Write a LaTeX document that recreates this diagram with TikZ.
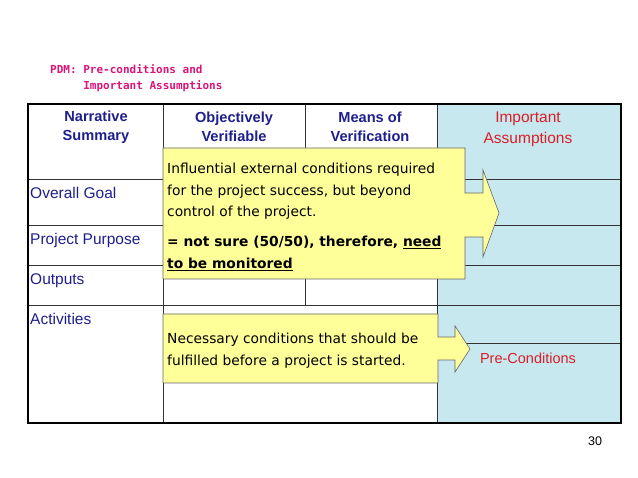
\documentclass[tikz,border=0pt]{standalone}
\usepackage{fontspec}
\setmainfont{Liberation Sans}
\newfontfamily\callfont{DejaVu Sans}
\newfontfamily\titlefont{DejaVu Sans Mono}
\definecolor{navy}{RGB}{30,30,140}
\definecolor{cyanbg}{RGB}{198,232,238}
\definecolor{callyel}{RGB}{255,255,153}
\definecolor{magent}{RGB}{220,20,120}
\definecolor{redtx}{RGB}{220,30,40}
\begin{document}
\begin{tikzpicture}[x=1pt,y=-1pt,
  hdr/.style={font=\bfseries\fontsize{14.6}{19}\selectfont, text=navy, align=center},
  rowlab/.style={font=\fontsize{15.5}{18}\selectfont, text=navy, anchor=west, inner sep=0pt},
  call/.style={draw=black!60, fill=callyel, line width=0.6pt},
  calltxt/.style={font=\callfont\fontsize{13.8}{21.5}\selectfont, align=left, anchor=north west, inner sep=0pt}]
\useasboundingbox (0,0) rectangle (638,478);
\fill[cyanbg] (437,104) rectangle (621,423);
\draw[black!80, line width=0.7pt]
  (28,179) -- (621,179) (28,225) -- (621,225) (28,265) -- (621,265) (28,305) -- (621,305)
  (437,343) -- (621,343)
  (163,104) -- (163,423) (305,104) -- (305,305) (437,104) -- (437,423);
\draw[black, line width=1.4pt] (28,104) rectangle (621,423);
\node[font=\titlefont\bfseries\fontsize{11}{16}\selectfont, text=magent, align=left, anchor=north west, inner sep=0pt] (title) at (50,64) {PDM: Pre-conditions and\\\phantom{PDM: }Important Assumptions};
\node[hdr] (h1) at (96,127) {Narrative\\Summary};
\node[hdr] (h2) at (234,127) {Objectively\\Verifiable};
\node[hdr] (h3) at (370,127) {Means of\\Verification};
\node[font=\fontsize{15.5}{21}\selectfont, text=redtx, align=center] (h4) at (528,129) {Important\\Assumptions};
\node[rowlab] (r1) at (30,193) {Overall Goal};
\node[rowlab] (r2) at (30,240) {Project Purpose};
\node[rowlab] (r3) at (30,281) {Outputs};
\node[rowlab] (r4) at (30,319) {Activities};
\draw[call] (163,148) -- (465,148) -- (465,193) -- (483,193) -- (483,170) -- (499,213) -- (483,257) -- (483,237) -- (465,237) -- (465,279) -- (163,279) -- cycle;
\node[calltxt] (c1) at (167,163) {Influential external conditions required\\for the project success, but beyond\\control of the project.\\[8.5pt]\textbf{= not sure (50/50), therefore, \underline{need}}\\\textbf{\underline{to be monitored}}};
\draw[call] (163,314) -- (438,314) -- (438,337) -- (455,337) -- (455,326) -- (470,349) -- (455,372) -- (455,360) -- (438,360) -- (438,383) -- (163,383) -- cycle;
\node[calltxt] (c2) at (167,333) {Necessary conditions that should be\\fulfilled before a project is started.};
\node[font=\fontsize{14.5}{17}\selectfont, text=redtx] (pc) at (528,358) {Pre-Conditions};
\node[font=\fontsize{12.5}{14}\selectfont] (pg) at (595,441) {30};
\end{tikzpicture}
\end{document}
